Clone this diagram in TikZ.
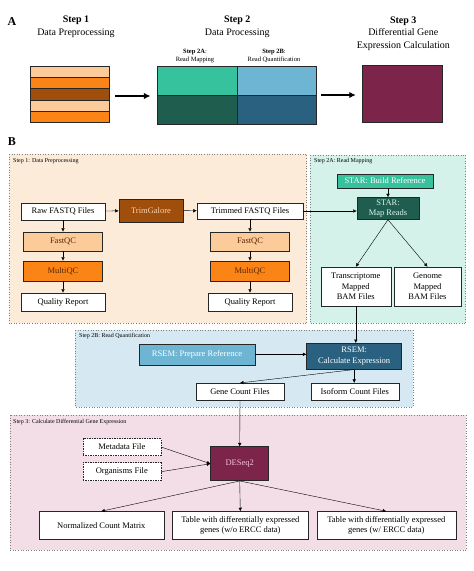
\documentclass[tikz,border=0pt]{standalone}
\usepackage{fontspec}
\setmainfont{Liberation Serif}
\usepackage{tikz}
\usetikzlibrary{arrows.meta}
\usepackage{xcolor}

\definecolor{peachL}{HTML}{FBCB9A}
\definecolor{orangeM}{HTML}{FB8417}
\definecolor{brownD}{HTML}{A04E0C}
\definecolor{tealL}{HTML}{36C29D}
\definecolor{greenD}{HTML}{1F5E4F}
\definecolor{blueL}{HTML}{6DB5D2}
\definecolor{blueD}{HTML}{2A6180}
\definecolor{plum}{HTML}{7C2449}
\definecolor{regone}{HTML}{FDEBDA}
\definecolor{regtwoa}{HTML}{D4F1EA}
\definecolor{regtwob}{HTML}{D6E9F2}
\definecolor{regthree}{HTML}{F3DEE7}
\definecolor{trimtext}{HTML}{F7D3B2}
\definecolor{qctext}{HTML}{5A2600}
\definecolor{mintext}{HTML}{DDF3EC}
\definecolor{pinktext}{HTML}{F4C4DA}

\begin{document}
\begin{tikzpicture}[x=1pt,y=-1pt]
\tikzset{>={Latex[width=3.5pt,length=3.5pt]}}
\tikzstyle{box} =[draw=black!85, line width=0.5pt, fill=white, inner sep=1pt, align=center, font=\fontsize{8.5}{10.7}\selectfont]
\tikzstyle{region} =[draw=gray, dotted, line width=0.6pt]
\tikzstyle{regionlabel} =[anchor=north west, inner sep=1pt, font=\fontsize{6}{7}\selectfont]
\tikzstyle{title} =[align=center, inner sep=0pt, font=\fontsize{10}{12.5}\selectfont]
\tikzstyle{sublabel} =[align=center, inner sep=0pt, font=\fontsize{6.5}{8.5}\selectfont]
\tikzstyle{panel} =[inner sep=0pt, font=\bfseries\fontsize{12}{12}\selectfont]
\tikzstyle{bigarrow} =[-{Latex[width=6.5pt,length=6.5pt]}, line width=1.8pt]

\useasboundingbox (0,0) rectangle (474,571);
\fill[white] (0,0) rectangle (474,571);

% panel A
\node[panel] (labA) at (12,22) {A};
\node[title] (t1) at (76,27) {\textbf{Step 1}\\Data Preprocessing};
\node[title] (t2) at (237.3,27) {\textbf{Step 2}\\Data Processing};
\node[title] (t3) at (403.3,33.3) {\textbf{Step 3}\\Differential Gene\\Expression Calculation};
\node[sublabel] (t2a) at (195,56) {\textbf{Step 2A}:\\Read Mapping};
\node[sublabel] (t2b) at (274,56) {\textbf{Step 2B}:\\Read Quantification};

\foreach \c [count=\i] in {peachL,orangeM,brownD,peachL,orangeM}
  \filldraw[fill=\c, draw=black!85, line width=0.5pt] (30,{66+(\i-1)*11.34}) rectangle (109.3,{66+\i*11.34});
\node[draw=black!85, line width=0.5pt, minimum width=79.3pt, minimum height=56.7pt, inner sep=0pt] (s1box) at (69.7,94.3) {};

\fill[tealL] (157.7,66) rectangle (237.3,95.7);
\fill[blueL] (237.3,66) rectangle (316,95.7);
\fill[greenD] (157.7,95.7) rectangle (237.3,124);
\fill[blueD] (237.3,95.7) rectangle (316,124);
\draw[black!85, line width=0.5pt] (237.3,66) -- (237.3,124) (157.7,95.7) -- (316,95.7);
\node[draw=black!85, line width=0.5pt, minimum width=158.3pt, minimum height=58pt, inner sep=0pt] (s2box) at (236.85,95) {};

\node[draw=black!85, fill=plum, line width=0.5pt, minimum width=80pt, minimum height=57.4pt, inner sep=0pt] (s3box) at (402.7,94) {};

\draw[bigarrow, shorten <=5.7pt, shorten >=7pt] (s1box.east |- 0,96) -- (s2box.west |- 0,96);
\draw[bigarrow, shorten <=4.7pt, shorten >=6.7pt] (s2box.east |- 0,95) -- (s3box.west |- 0,95);

% panel B
\node[panel] (labB) at (12,142) {B};

\filldraw[region, fill=regone] (9,154) rectangle (306.7,323.3);
\filldraw[region, fill=regtwoa] (310,155) rectangle (465.7,323.3);
\filldraw[region, fill=regtwob] (75,330) rectangle (413,407);
\filldraw[region, fill=regthree] (10,415) rectangle (466,550);

\node[regionlabel] (lab1) at (12,157) {Step 1: Data Preprocessing};
\node[regionlabel] (lab2a) at (313,157) {Step 2A: Read Mapping};
\node[regionlabel] (lab2b) at (78,332) {Step 2B: Read Quantification};
\node[regionlabel] (lab3) at (12,418) {Step 3: Calculate Differential Gene Expression};

% step 1
\node[box, minimum width=84pt, minimum height=17pt] (raw) at (63,211.5) {Raw FASTQ Files};
\node[box, fill=brownD, text=trimtext, minimum width=64pt, minimum height=23pt] (trim) at (151,210.5) {TrimGalore};
\node[box, minimum width=106pt, minimum height=16pt] (trimmed) at (250,211) {Trimmed FASTQ Files};
\node[box, fill=peachL, text=qctext, minimum width=79pt, minimum height=19pt] (fqcL) at (63,241.5) {FastQC};
\node[box, fill=orangeM, text=qctext, minimum width=79pt, minimum height=20pt] (mqcL) at (63,271) {MultiQC};
\node[box, minimum width=84pt, minimum height=18pt] (qrL) at (63,302) {Quality Report};
\node[box, fill=peachL, text=qctext, minimum width=79pt, minimum height=19pt] (fqcR) at (250,241.5) {FastQC};
\node[box, fill=orangeM, text=qctext, minimum width=79pt, minimum height=20pt] (mqcR) at (250,271) {MultiQC};
\node[box, minimum width=84pt, minimum height=18pt] (qrR) at (250,302) {Quality Report};

% step 2A
\node[box, fill=tealL, text=white, minimum width=96pt, minimum height=14pt] (build) at (385,181) {STAR: Build Reference};
\node[box, fill=greenD, text=mintext, minimum width=62pt, minimum height=22pt] (map) at (388,208.5) {STAR:\\Map Reads};
\node[box, minimum width=70pt, minimum height=39pt] (tx) at (355.8,286.5) {Transcriptome\\Mapped\\BAM Files};
\node[box, minimum width=67pt, minimum height=39pt] (gen) at (427.5,286.5) {Genome\\Mapped\\BAM Files};

% step 2B
\node[box, fill=blueL, text=white, minimum width=116pt, minimum height=21pt] (prep) at (197,354.3) {RSEM: Prepare Reference};
\node[box, fill=blueD, text=white, minimum width=95pt, minimum height=26pt] (calc) at (354.2,356.3) {RSEM:\\Calculate Expression};
\node[box, minimum width=88pt, minimum height=17pt] (gene) at (240,391.7) {Gene Count Files};
\node[box, minimum width=88pt, minimum height=17pt] (iso) at (354.8,391.7) {Isoform Count Files};

% step 3
\node[box, dash pattern=on 1.5pt off 1pt, minimum width=78pt, minimum height=17pt] (meta) at (121.8,447) {Metadata File};
\node[box, dash pattern=on 1.5pt off 1pt, minimum width=78pt, minimum height=18pt] (org) at (121.8,471.7) {Organisms File};
\node[box, fill=plum, text=pinktext, minimum width=58pt, minimum height=34pt] (deseq) at (239.7,463.7) {DESeq2};
\node[box, minimum width=125pt, minimum height=28pt] (norm) at (101.3,525.5) {Normalized Count Matrix};
\node[box, minimum width=136pt, minimum height=28pt] (wo) at (240.3,525.5) {Table with differentially expressed\\genes (w/o ERCC data)};
\node[box, minimum width=139pt, minimum height=28pt] (w) at (386.3,525.5) {Table with differentially expressed\\genes (w/ ERCC data)};

% connectors
\draw[->] (raw) -- (trim);
\draw[->] (trim) -- (trimmed);
\draw[->] (raw) -- (fqcL);
\draw[->] (fqcL) -- (mqcL);
\draw[->] (mqcL) -- (qrL);
\draw[->] (trimmed) -- (fqcR);
\draw[->] (fqcR) -- (mqcR);
\draw[->] (mqcR) -- (qrR);
\draw[->] (trimmed.east) -- (trimmed.east -| map.west);
\draw[->] (map.north |- build.south) -- (map.north);
\draw[->] (map.south) -- (tx.north);
\draw[->] (map.south) -- (gen.north);
\draw[->] (tx.south) -- (tx.south |- calc.north);
\draw[->] (prep.east) -- (prep.east -| calc.west);
\draw[->] (calc.south) -- (gene.north);
\draw[->] (calc.south) -- (calc.south |- iso.north);
\draw[->] (gene.south) -- (deseq.north);
\draw[->] (meta.east) -- (deseq.west);
\draw[->] (org.east) -- (deseq.west);
\draw[->] (deseq.south) -- (norm.north);
\draw[->] (deseq.south) -- (wo.north);
\draw[->] (deseq.south) -- (w.north);
\end{tikzpicture}
\end{document}
